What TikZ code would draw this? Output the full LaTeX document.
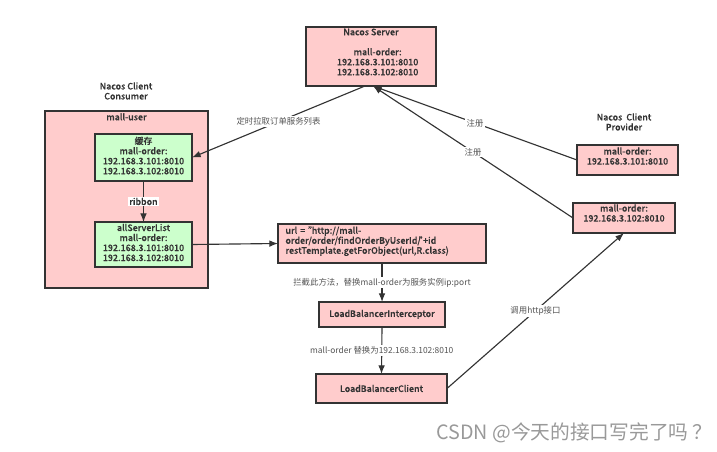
\documentclass[tikz,border=0pt]{standalone}
\usepackage{fontspec}
\setmainfont[BoldFont={Noto Sans CJK SC Medium}, BoldFeatures={FakeBold=0.35}]{Noto Sans CJK SC}
\usetikzlibrary{arrows.meta}

\definecolor{pinkfill}{HTML}{FFCCCC}
\definecolor{greenfill}{HTML}{CCFFCC}
\definecolor{edgegrey}{HTML}{333333}
\definecolor{labelgrey}{HTML}{555555}

\tikzset{
    sized/.style 2 args={minimum width=#1*0.75pt, minimum height=#2*0.75pt},
    box/.style={draw=edgegrey, line width=0.9pt, fill=pinkfill, inner sep=0pt, outer sep=0pt,
        align=center, text=edgegrey, font=\fontsize{6.65}{7.5}\selectfont\bfseries},
    greenbox/.style={box, fill=greenfill},
    title/.style={inner sep=0pt, align=center, text=edgegrey, font=\fontsize{6.65}{7.5}\selectfont\bfseries},
    conn/.style={draw=edgegrey, line width=0.85pt, -{Latex[length=6.5pt,width=5pt]}},
    lab/.style={fill=white, inner sep=1pt, text=labelgrey, font=\fontsize{6.3}{7}\selectfont}
}

\begin{document}
\begin{tikzpicture}[x=0.75pt, y=-0.75pt]
\useasboundingbox (0,0) rectangle (717,452);

% titles
\node[title] (consumerTitle) at (126,91) {Nacos Client\\Consumer};
\node[title] (providerTitle) at (624,122) {Nacos~~Client\\Provider};

% server
\node[box, sized={130}{59}] (server) at (371,56.5)
    {Nacos Server\hspace{10pt}\\ \\ \hspace{10pt}mall-order:\\ \hspace{10pt}192.168.3.101:8010\\ \hspace{10pt}192.168.3.102:8010\\[-0.7pt]\mbox{}};

% consumer
\node[box, sized={163}{177}, label={[title, anchor=north, yshift=-1.5pt]north:mall-user}] (user) at (126.5,199.5) {};
\node[greenbox, sized={97}{47}] (cache) at (143.5,157.5)
    {缓存\\mall-order:\\192.168.3.101:8010\\192.168.3.102:8010\\[-4.5pt]\mbox{}};
\node[greenbox, sized={97}{45}] (list) at (143.5,244.5)
    {allServerList\\mall-order:\\192.168.3.101:8010\\192.168.3.102:8010\\[-4.5pt]\mbox{}};

% providers
\node[box, sized={101}{30}] (prov1) at (627.5,160)
    {mall-order:\\192.168.3.101:8010\\[-1.5pt]\mbox{}};
\node[box, sized={102}{30}] (prov2) at (624,218)
    {mall-order:\\192.168.3.102:8010\\[0pt]\mbox{}};

% call chain
\node[box, sized={208}{39}, align=left, text width=193*0.75pt] (url) at (382,243.5)
    {url =\ "\kern-4pt\relax http://mall-\\order/order/findOrderByUserId/\kern-1.5pt"\kern-3.5pt\relax+id\\restTemplate.getForObject(url,R.class)\\[-2.3pt]\mbox{}};
\node[box, sized={126}{25}] (lbi) at (382,314.5) {\mbox{}\\[-2.3pt]LoadBalancerInterceptor};
\node[box, sized={131}{29}] (lbc) at (381.5,388.5) {LoadBalancerClient};

% connectors
\draw[conn] ([xshift=-4.5pt]server.south) -- node[lab] (lab1) {定时拉取订单服务列表} (cache.east);
\draw[conn] (cache.south) -- node[lab, font=\fontsize{6.65}{7.5}\selectfont\bfseries, text=edgegrey] (lab2) {ribbon} (list.north);
\draw[conn] (prov1.west) -- node[lab] (lab3) {注册} ([xshift=1.5pt]server.south);
\draw[conn] (prov2.west) -- node[lab] (lab4) {注册} ([xshift=1.5pt]server.south);
\draw[conn] (list.east) -- (url.west);
\draw[conn] (url.south) -- node[lab] (lab5) {拦截此方法，替换mall-order为服务实例ip:port} (lbi.north);
\draw[conn] (lbi.south) -- node[lab] (lab6) {mall-order 替换为192.168.3.102:8010} (lbc.north);
\draw[conn] (lbc.east) -- node[lab] (lab7) {调用http接口} (prov2.south);

% watermark
\node[inner sep=0pt, anchor=west, text=black!40, font=\fontsize{14.8}{16}\selectfont] (mark) at (436,433) {CSDN @今天的接口写完了吗\kern3pt？};
\end{tikzpicture}
\end{document}
